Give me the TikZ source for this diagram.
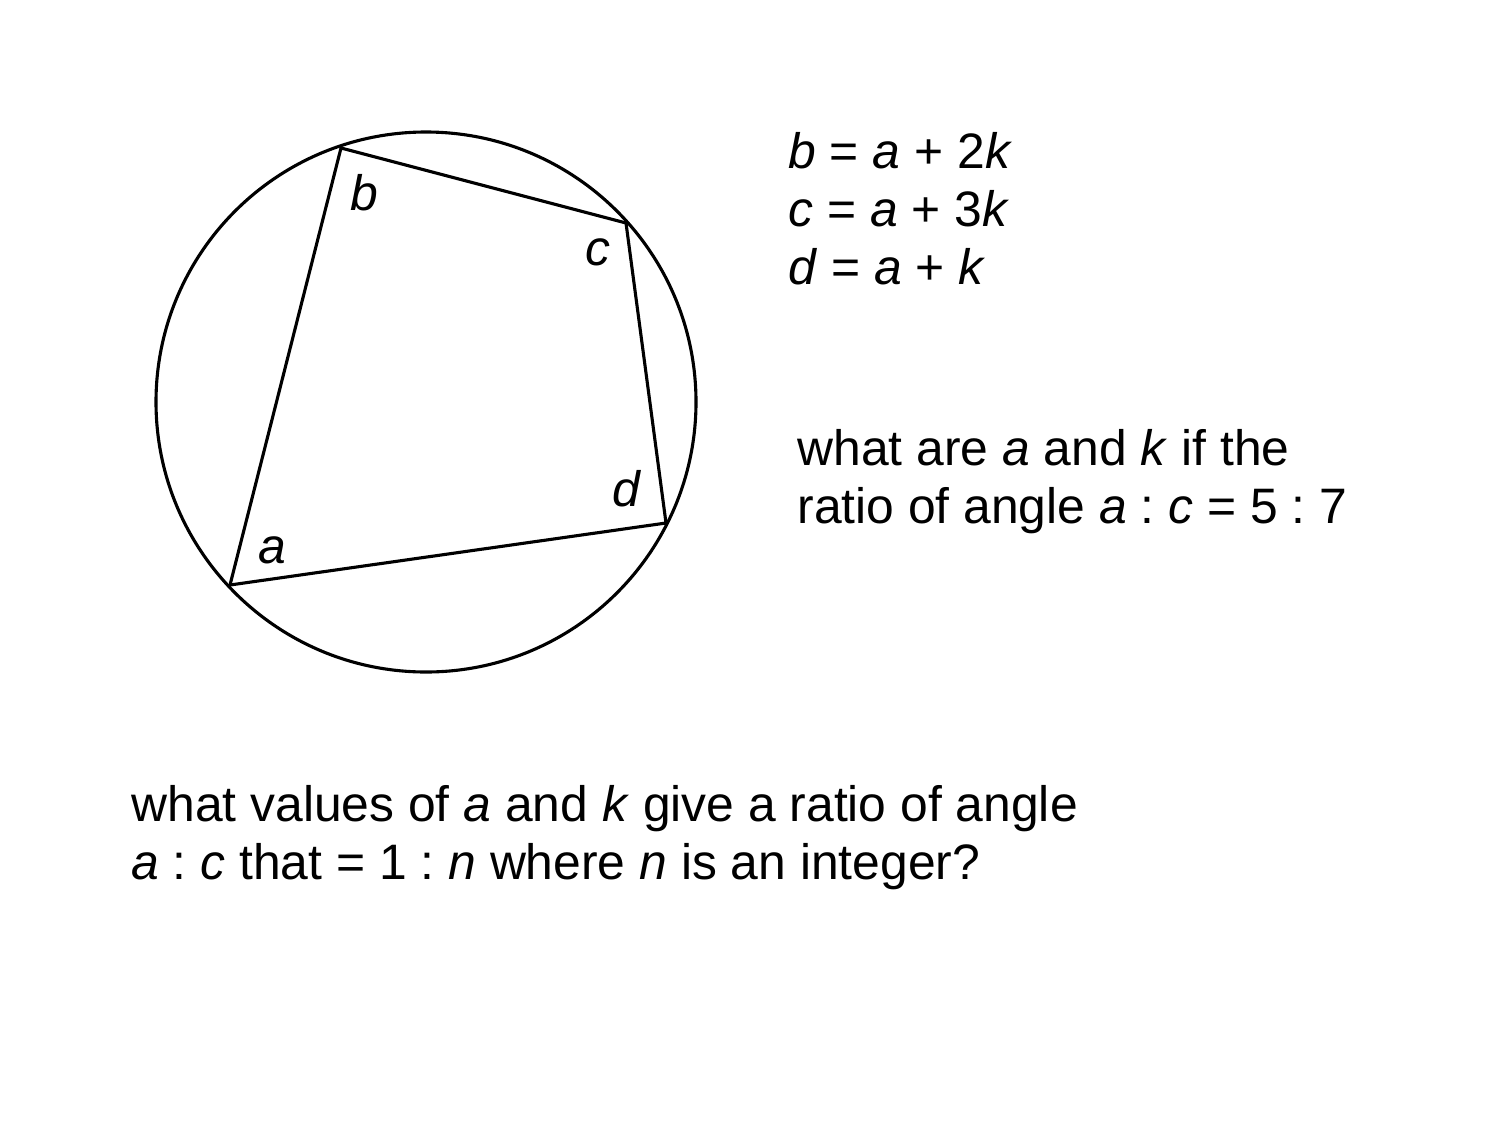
\documentclass[tikz,border=0pt]{standalone}
\usepackage{fontspec}
\setmainfont{Liberation Sans}
\frenchspacing
\begin{document}
\begin{tikzpicture}[x=0.169333mm,y=-0.169333mm,
  txt/.style={anchor=base west,inner sep=0pt,font=\fontsize{24}{28.8}\selectfont},
  lbl/.style={inner sep=0pt,font=\fontsize{24}{28.8}\selectfont\itshape},
  edge/.style={line width=1.5pt,line join=miter}]
\useasboundingbox (0,0) rectangle (1500,1125);
\coordinate (O) at (426,402);
\draw[edge] (O) circle[radius=270];
\coordinate (B) at (341,148);
\coordinate (C) at (626,223);
\coordinate (D) at (666,523);
\coordinate (A) at (230,585);
\draw[edge] (A) -- (B) -- (C) -- (D) -- cycle;
\node[lbl] (la) at (272,550) {a};
\node[lbl] (lb) at (364,193) {b};
\node[lbl] (lc) at (598,252) {c};
\node[lbl] (ld) at (626,489) {d};
\node[txt] (e1) at (788,168) {\textit{b} = \textit{a} + 2\textit{k}};
\node[txt] (e2) at (788,226) {\textit{c} = \textit{a} + 3\textit{k}};
\node[txt] (e3) at (788,284) {\textit{d} = \textit{a} + \textit{k}};
\node[txt] (q1) at (797,465) {what are \textit{a} and \textit{k} if the};
\node[txt] (q2) at (797,523) {ratio of angle \textit{a} : \textit{c} = 5 : 7};
\node[txt] (r1) at (131,821) {what values of \textit{a} and \textit{k} give a ratio of angle};
\node[txt] (r2) at (131,879) {\textit{a} : \textit{c} that = 1 : \textit{n} where \textit{n} is an integer?};
\end{tikzpicture}
\end{document}
